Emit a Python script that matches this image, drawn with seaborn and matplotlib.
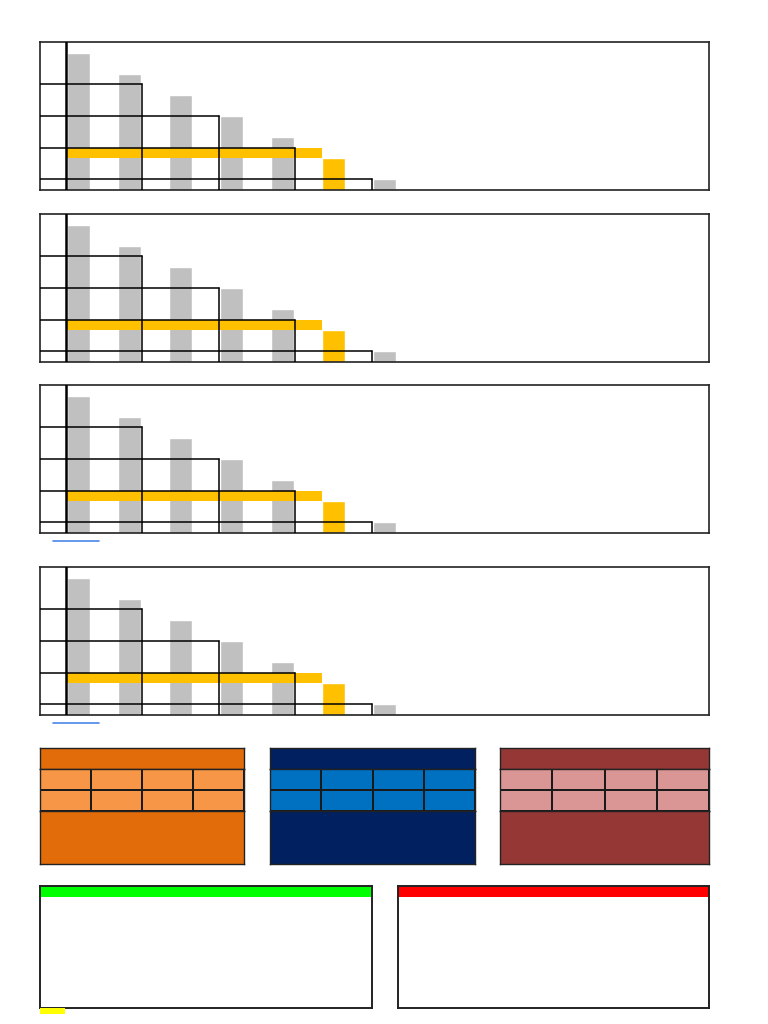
import matplotlib
matplotlib.use("Agg")
import matplotlib.pyplot as plt
import numpy as np
import pandas as pd
import seaborn as sns

# ---------------- data ----------------
bar_categories = ["C1", "C2", "C3", "C4", "C5", "C6", "C7"]
bar_values = [6.5, 5.5, 4.5, 3.5, 2.5, 1.5, 0.5]
bar_colors = ["#C0C0C0", "#C0C0C0", "#C0C0C0", "#C0C0C0", "#C0C0C0", "#FFC000", "#C0C0C0"]
band_low = 1.5
band_high = 2.0
step_levels = [5.0, 3.5, 2.0, 0.5]

table_rows = ["R1", "R2"]
table_cols = ["K1", "K2", "K3", "K4"]
table_values = [[1, 1, 1, 1], [1, 1, 1, 1]]
table_dark = ["#E36C0A", "#002060", "#953735"]
table_light = ["#F79646", "#0070C0", "#DA9694"]

note_colors = ["#00FF00", "#FF0000"]

W, H = 768, 1024
sns.set_theme(style="white")
fig = plt.figure(figsize=(W / 100, H / 100), dpi=100)
fig.patch.set_facecolor("white")


def px_axes(x0, y0, x1, y1, **kw):
    return fig.add_axes([x0 / W, 1 - y1 / H, (x1 - x0) / W, (y1 - y0) / H], **kw)


def clean(ax, lw=1.2):
    ax.set_xticks([])
    ax.set_yticks([])
    ax.set_xlabel("")
    ax.set_ylabel("")
    for s in ax.spines.values():
        s.set_visible(True)
        s.set_color("#222222")
        s.set_linewidth(lw)


# --------------- bar panels ---------------
panels = [(40, 42, 709, 190), (40, 214, 709, 362), (40, 385, 709, 533), (40, 567, 709, 715)]
bar_df = pd.DataFrame({"cat": bar_categories, "val": bar_values})
px_per_unit = 51.0
for k, (x0, y0, x1, y1) in enumerate(panels):
    ax = px_axes(x0, y0, x1, y1)
    sns.barplot(data=bar_df, x="cat", y="val", hue="cat", palette=bar_colors,
                legend=False, width=0.47, ax=ax, zorder=1, saturation=1)
    left = -(78.5 - x0) / px_per_unit
    right = left + (x1 - x0) / px_per_unit
    ax.set_xlim(left, right)
    ax.set_ylim(0, 7)
    # yellow band
    half = 0.235
    ax.fill_between([-half, 5 - half], band_low, band_high, color="#FFC000", lw=0, zorder=2)
    # grid (spreadsheet cells)
    col0 = -0.25
    colw = 1.5
    ax.axvline(col0, color="black", lw=1.8, zorder=3)
    for i, lev in enumerate(step_levels):
        xb = col0 + colw * (i + 1)
        ax.plot([left, xb], [lev, lev], color="black", lw=1.1, zorder=3)
        ax.plot([xb, xb], [0, lev], color="black", lw=1.1, zorder=3)
    clean(ax)
    if k >= 2:
        ly = y1 + 8
        fig.add_artist(plt.Line2D([53 / W, 99 / W], [1 - ly / H, 1 - ly / H],
                                  color="#4A86E8", lw=1.2))

# --------------- colored tables ---------------
tables = [(40, 244), (270, 475), (500, 709)]
for (x0, x1), dark, light in zip(tables, table_dark, table_light):
    # header
    axh = px_axes(x0, 748, x1, 769)
    axh.set_facecolor(dark)
    clean(axh, 1.0)
    # middle grid
    axm = px_axes(x0, 769, x1, 811)
    mat = pd.DataFrame(table_values, index=table_rows, columns=table_cols)
    sns.heatmap(mat, cmap=[light], cbar=False, linewidths=1.2, linecolor="#1a1a1a", ax=axm)
    clean(axm, 1.0)
    # footer
    axf = px_axes(x0, 811, x1, 864)
    axf.set_facecolor(dark)
    clean(axf, 1.0)

# --------------- note boxes ---------------
notes = [(40, 372), (398, 709)]
for (x0, x1), c in zip(notes, note_colors):
    ax = px_axes(x0, 886, x1, 1008)
    ax.set_xlim(0, 1)
    ax.set_ylim(0, 1)
    ax.axhspan(1 - 11 / 122, 1, color=c, lw=0)
    clean(ax, 1.4)

# small yellow marker
axy = px_axes(40, 1008, 65, 1014)
axy.set_facecolor("#FFFF00")
axy.set_xticks([]); axy.set_yticks([])
for s in axy.spines.values():
    s.set_visible(False)

fig.savefig("out.png", dpi=100, facecolor="white")
